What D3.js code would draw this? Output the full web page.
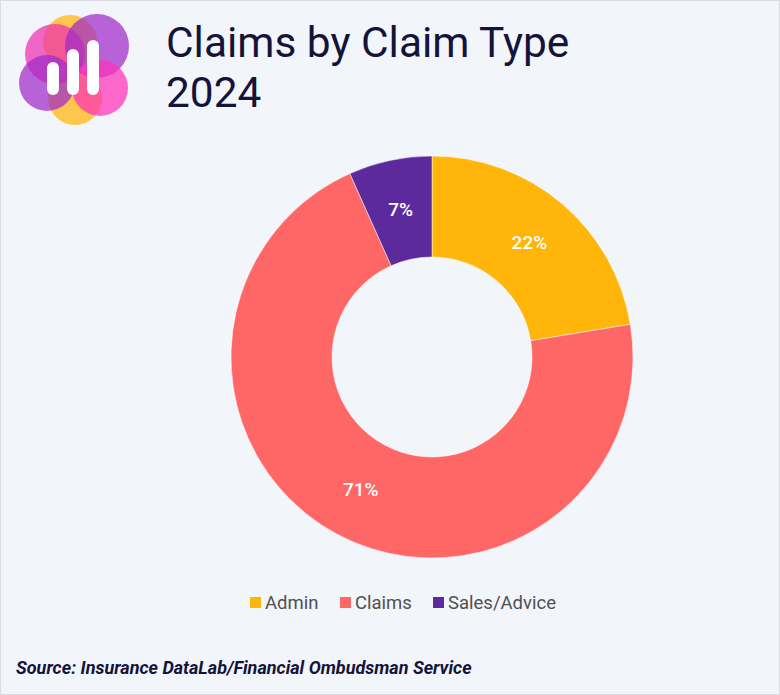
<!DOCTYPE html>
<html><head><meta charset="utf-8">
<script src="https://cdn.jsdelivr.net/npm/d3@7"></script>
<style>
html,body{margin:0;padding:0;background:#f2f5fa;}
svg{display:block;}
</style></head>
<body>
<script>
const categories = ["Admin", "Claims", "Sales/Advice"];
const values = [22.4, 70.9, 6.7];
const labels = ["22%", "71%", "7%"];
const colors = ["#ffb509", "#ff6666", "#5c2a9d"];

const W = 780, H = 695;
const svg = d3.select("body").append("svg").attr("width", W).attr("height", H);
svg.append("rect").attr("x",0.5).attr("y",0.5).attr("width",W-1).attr("height",H-1)
  .attr("fill","#f2f5fa").attr("stroke","#d9dce1");

// logo
const logo = svg.append("g");
const circles = [
  {cx:70, cy:42, r:27, c:"#ffb509"},
  {cx:75, cy:98, r:27, c:"#ffb509"},
  {cx:55, cy:54, r:30, c:"#ee2fb0"},
  {cx:97, cy:46, r:32, c:"#a02ac8"},
  {cx:47, cy:83, r:28, c:"#a02ac8"},
  {cx:100, cy:88, r:28, c:"#ff30b8"}
];
logo.selectAll("circle").data(circles).join("circle")
  .attr("cx",d=>d.cx).attr("cy",d=>d.cy).attr("r",d=>d.r)
  .attr("fill",d=>d.c).attr("fill-opacity",0.72);
const bars = [{x:53,y0:62},{x:73,y0:49},{x:93,y0:40}];
logo.selectAll("rect").data(bars).join("rect")
  .attr("x",d=>d.x-6).attr("y",d=>d.y0).attr("width",12).attr("height",d=>95-d.y0)
  .attr("rx",6).attr("fill","#fff");

// title
const title = svg.append("text").attr("x",167).attr("fill","#14133a")
  .style("font-family","Roboto").style("font-size","42.4px");
title.append("tspan").attr("x",166).attr("y",57).text("Claims by Claim Type");
title.append("tspan").attr("x",166).attr("y",107).text("2024");

// donut
const cx = 432, cy = 357, rOut = 201, rIn = 100;
const pie = d3.pie().sort(null).value(d=>d.v);
const data = pie(categories.map((c,i)=>({c, v:values[i], l:labels[i], col:colors[i]})));
const arc = d3.arc().innerRadius(rIn).outerRadius(rOut);
const g = svg.append("g").attr("transform",`translate(${cx},${cy})`);
g.selectAll("path").data(data).join("path")
  .attr("d",arc).attr("fill",d=>d.data.col).attr("stroke","#ffffff").attr("stroke-width",0.5);
g.selectAll("text").data(data).join("text")
  .attr("transform",d=>`translate(${arc.centroid(d)})`)
  .attr("text-anchor","middle").attr("dy","0.35em")
  .attr("fill","#fff").style("font-family","Roboto").style("font-weight","500").style("font-size","19px")
  .text(d=>d.data.l);

// legend
const legX = [250, 340, 433];
const lg = svg.append("g");
categories.forEach((c,i)=>{
  lg.append("rect").attr("x",legX[i]).attr("y",597).attr("width",11).attr("height",11).attr("fill",colors[i]);
  lg.append("text").attr("x",legX[i]+15).attr("y",608.5).text(c)
    .attr("fill","#505050").style("font-family","Roboto").style("font-size","18.5px");
});

// source
svg.append("text").attr("x",16).attr("y",674)
  .attr("fill","#14133a").style("font-family","Roboto").style("font-weight","bold").style("font-style","italic").style("font-size","18px")
  .text("Source: Insurance DataLab/Financial Ombudsman Service");
</script>
</body></html>
